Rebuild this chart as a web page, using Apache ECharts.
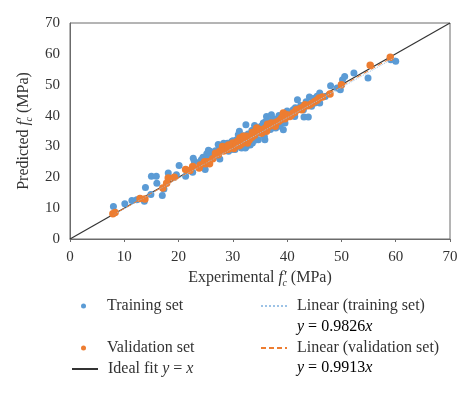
<!DOCTYPE html>
<html><head><meta charset="utf-8">
<script src="https://cdn.jsdelivr.net/npm/echarts@6/dist/echarts.min.js"></script>
<style>html,body{margin:0;padding:0;background:#fff}#c{width:474px;height:395px}</style>
</head><body><div id="c"></div>
<script>
var axisTicks = [0,10,20,30,40,50,60,70];
var trainingSet = [
[8.0,10.5],[10.1,11.4],[11.4,12.5],[12.3,12.7],[13.9,16.7],[13.7,12.2],[14.9,14.4],[15.0,20.3],[15.9,20.3],[16.0,18.1],
[17.0,14.1],[17.3,16.2],[18.1,21.4],[20.1,23.8],[19.6,20.8],[21.3,20.3],[22.6,21.6],[22.7,26.2],[22.9,25.2],[23.8,24.8],
[24.2,25.7],[24.9,22.5],[25.2,27.6],[25.8,28.4],[26.4,27.3],[27.3,26.8],[27.3,30.6],[27.6,25.9],[29.2,28.4],[29.8,31.6],
[30.1,30.0],[30.7,32.2],[31.2,34.9],[31.6,29.5],[32.4,37.0],[32.5,30.0],[33.0,32.7],[33.6,31.1],[33.9,33.3],[34.4,34.3],
[34.7,32.2],[35.0,35.4],[35.6,37.6],[35.9,32.2],[36.2,39.7],[36.2,36.5],[36.8,38.1],[37.4,38.7],[37.1,40.3],[37.9,36.0],
[38.7,36.5],[39.3,35.4],[39.6,37.6],[39.8,41.0],[40.5,40.3],[41.1,41.9],[41.4,39.7],[41.9,45.1],[42.2,42.4],[43.0,41.9],
[43.1,39.5],[43.9,39.5],[44.1,46.0],[44.5,43.0],[45.1,44.1],[46.0,47.3],[46.0,44.1],[47.0,46.2],[48.0,49.7],[49.2,48.9],
[49.8,48.4],[50.0,50.0],[50.2,51.6],[50.6,52.7],[52.3,53.8],[54.9,52.2],[59.1,58.1],[60.0,57.6],
[24.5,26.5],[25.3,26.9],[25.8,27.2],[26.2,28.0],[26.8,28.6],[27.5,29.3],[28.0,28.8],[28.5,29.8],[29.0,31.0],[29.5,30.2],
[30.0,31.8],[30.4,29.0],[30.9,30.8],[31.5,32.5],[31.8,31.0],[32.0,33.5],[32.8,34.0],[33.2,30.5],[33.5,35.2],[34.0,32.0],
[34.6,35.8],[35.2,36.5],[35.5,34.5],[36.0,38.0],[36.5,37.0],[36.9,35.5],[37.5,39.0],[38.0,38.5],[38.5,40.0],[39.0,39.5],
[39.5,38.5],[40.0,41.5],[40.8,41.0],[41.5,42.5],[42.5,43.3],[43.5,44.5],[44.8,45.5],[45.5,46.3],[25.5,28.8],[26.0,26.0],
[28.3,31.0],[31.0,33.8],[34.0,36.8],[37.2,36.0],[29.8,29.0],[32.3,29.5],[35.8,33.2],[38.2,37.2]
];
var validationSet = [
[7.9,8.2],[8.3,8.6],[12.9,13.1],[13.8,13.0],[17.1,16.5],[17.8,18.1],[18.1,19.8],[19.2,20.0],[21.3,22.5],[22.1,22.2],
[22.6,23.5],[23.8,23.0],[25.0,24.4],[25.7,24.4],[27.3,27.3],[28.1,30.0],[28.9,29.5],[29.5,30.0],[30.0,31.1],[30.4,30.0],
[30.8,31.6],[31.3,32.7],[31.9,33.3],[32.2,32.2],[32.7,31.1],[33.1,32.7],[33.8,33.8],[34.4,36.0],[34.7,34.9],[35.3,34.3],
[36.2,34.9],[37.1,37.6],[37.8,36.5],[38.4,38.1],[38.9,38.7],[39.3,40.8],[39.9,40.3],[40.5,39.7],[41.1,40.8],[41.7,41.9],
[42.7,41.9],[43.3,43.5],[44.2,43.5],[45.1,44.6],[45.9,45.7],[47.9,47.0],[50.0,50.0],[55.3,56.3],[59.0,58.9],
[24.0,24.0],[24.8,25.0],[25.5,25.0],[26.3,26.0],[26.8,27.8],[27.6,28.4],[28.3,28.5],[29.1,29.0],[29.6,29.6],[30.2,29.3],
[30.6,30.6],[31.0,31.5],[31.6,30.8],[32.0,32.6],[32.5,33.3],[33.0,32.1],[33.5,33.0],[34.0,33.6],[34.2,35.0],[35.0,35.5],
[35.6,35.2],[36.0,36.0],[36.6,36.4],[37.4,37.0],[38.0,37.8],[38.6,38.4],[39.0,39.2],[39.6,39.0],[40.2,40.0],[40.8,40.2],
[41.4,41.0],[42.0,42.0],[42.5,42.4],[43.0,42.8],[43.8,43.2],[44.6,44.0],[45.5,45.0],[46.5,46.0],[29.2,30.5],[31.2,30.2],
[33.6,34.5],[36.4,37.2]
];
var idealFit = [[0,0],[70,70]];
var trainSlope = 0.9826, trainRange = [8.0, 60.0];
var valSlope = 0.9913, valRange = [7.9, 59.0];

var FONT = '"Liberation Serif", "DejaVu Serif", serif';
var TXT = '#333';
var BLUE = '#5B9BD5', ORANGE = '#ED7D31', FITBLUE = '#9DC3E6';

function fitLine(slope, range){ return range.map(function(x){ return [x, +(slope*x).toFixed(3)]; }); }

var chart = echarts.init(document.getElementById('c'), null, {renderer:'canvas'});
var richName = {
  n: {fontFamily: FONT, fontSize: 16, color: TXT, lineHeight: 20},
  i: {fontFamily: FONT, fontSize: 16, color: TXT, fontStyle: 'italic', lineHeight: 20},
  s: {fontFamily: FONT, fontSize: 10, color: TXT, fontStyle: 'italic', verticalAlign: 'bottom', lineHeight: 20, padding: [0,0,0,-4]}
};
var richLeg = {
  n: {fontFamily: FONT, fontSize: 16, color: TXT, lineHeight: 18},
  i: {fontFamily: FONT, fontSize: 16, color: TXT, fontStyle: 'italic', lineHeight: 18}
};
function lg(name, left, cy, label, opt){
  var o = {
    data: [name], left: left, top: cy - 9, orient: 'horizontal', padding: 0,
    itemWidth: 26, itemHeight: 14, selectedMode: false,
    formatter: function(){ return label; },
    textStyle: {fontFamily: FONT, fontSize: 16, color: TXT, lineHeight: 18, padding: [0,0,0,5], rich: richLeg}
  };
  for (var k in opt) o[k] = opt[k];
  return o;
}
chart.setOption({
  animation: false,
  backgroundColor: '#fff',
  grid: {left: 70, right: 24, top: 23, bottom: 156, containLabel: false, show: true, borderColor: '#6b6b6b', borderWidth: 1},
  xAxis: {
    type: 'value', min: axisTicks[0], max: axisTicks[axisTicks.length-1], interval: 10,
    name: '{n|Experimental }{i|f′}{s|c}{n| (MPa)}', nameLocation: 'middle', nameGap: 27,
    nameTextStyle: {rich: richName},
    axisLine: {lineStyle: {color: '#6b6b6b', width: 1}},
    axisTick: {show: true, inside: false, length: 3, lineStyle: {color: '#6b6b6b'}},
    splitLine: {show: false},
    axisLabel: {fontFamily: FONT, fontSize: 15, color: TXT, margin: 11}
  },
  yAxis: {
    type: 'value', min: axisTicks[0], max: axisTicks[axisTicks.length-1], interval: 10,
    name: '{n|Predicted }{i|f′}{s|c}{n| (MPa)}', nameLocation: 'middle', nameGap: 34,
    nameTextStyle: {rich: richName},
    axisLine: {show: true, lineStyle: {color: '#6b6b6b', width: 1}},
    axisTick: {show: false},
    splitLine: {show: false},
    axisLabel: {fontFamily: FONT, fontSize: 15, color: TXT, margin: 10}
  },
  legend: [
    lg('Training set', 81, 306, '{n|Training set}', {icon: 'circle', itemWidth: 5, itemHeight: 5, textStyle: {fontFamily: FONT, fontSize: 16, color: TXT, lineHeight: 18, padding: [0,0,0,16], rich: richLeg}}),
    lg('Validation set', 81, 348, '{n|Validation set}', {icon: 'circle', itemWidth: 5, itemHeight: 5, textStyle: {fontFamily: FONT, fontSize: 16, color: TXT, lineHeight: 18, padding: [0,0,0,16], rich: richLeg}}),
    lg('Ideal fit', 71, 369, '{n|Ideal fit }{i|y}{n| = }{i|x}', {itemStyle: {opacity: 0}}),
    lg('Linear (training set)', 260, 306, '{n|Linear (training set)}', {itemStyle: {opacity: 0}}),
    lg('Linear (validation set)', 260, 348, '{n|Linear (validation set)}', {itemStyle: {opacity: 0}})
  ],
  graphic: [
    {type: 'text', left: 297, top: 319, style: {text: '{i|y}{n| = 0.9826}{i|x}', rich: richLeg}},
    {type: 'text', left: 297, top: 360, style: {text: '{i|y}{n| = 0.9913}{i|x}', rich: richLeg}}
  ],
  series: [
    {name: 'Ideal fit', type: 'line', data: idealFit, symbol: 'none', z: 1,
     lineStyle: {color: '#333', width: 1.2}, itemStyle: {color: '#333'}},
    {name: 'Training set', type: 'scatter', data: trainingSet, symbolSize: 7, z: 2,
     itemStyle: {color: BLUE, opacity: 1}},
    {name: 'Validation set', type: 'scatter', data: validationSet, symbolSize: 7.5, z: 3,
     itemStyle: {color: ORANGE, opacity: 1}},
    {name: 'Linear (training set)', type: 'line', data: fitLine(trainSlope, trainRange), symbol: 'none', z: 4,
     lineStyle: {color: FITBLUE, width: 1, type: 'dotted'}, itemStyle: {color: FITBLUE}},
    {name: 'Linear (validation set)', type: 'line', data: fitLine(valSlope, valRange), symbol: 'none', z: 4,
     lineStyle: {color: ORANGE, width: 1, type: [5,3]}, itemStyle: {color: ORANGE}}
  ]
});
</script></body></html>
